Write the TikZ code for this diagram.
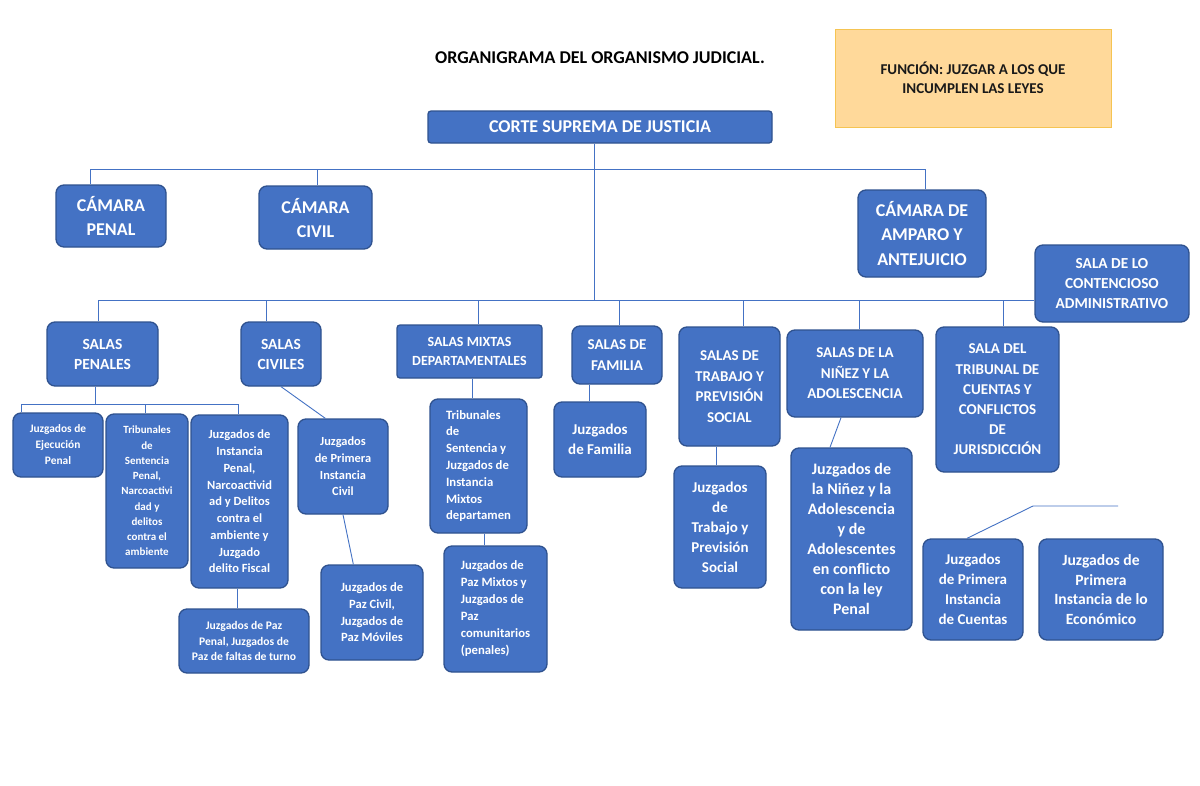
\documentclass[tikz,border=0pt]{standalone}
\usepackage{fontspec}
\setmainfont{Carlito}
\definecolor{bfill}{HTML}{4472C4}
\definecolor{bdraw}{HTML}{2F528F}
\definecolor{cline}{HTML}{4472C4}
\definecolor{ofill}{HTML}{FFD99A}
\definecolor{odraw}{HTML}{F5C452}
\newcommand{\fs}[2]{\fontsize{#1}{#2}\selectfont\bfseries}
\tikzset{
  box/.style={draw=bdraw, line width=1.3pt, fill=bfill, text=white, rounded corners=8pt, align=center, inner sep=0pt},
  sqbox/.style={box, rounded corners=3pt},
  conn/.style={draw=cline, line width=0.9pt},
}
\begin{document}
\begin{tikzpicture}[x=1pt,y=-1pt]
\fill[white] (0,0) rectangle (1200,785);
\useasboundingbox (0,0) rectangle (1200,785);

% title and function
\node[font=\fs{18}{22}, text=black] (title) at (600,58) {ORGANIGRAMA DEL ORGANISMO JUDICIAL.};
\node[draw=odraw, line width=1pt, fill=ofill, minimum width=276, minimum height=98, inner sep=0pt, align=center, font=\fs{15}{19}, text=black!90] (func) at (973,78) {FUNCIÓN: JUZGAR A LOS QUE\\INCUMPLEN LAS LEYES};

% level 0
\node[sqbox, minimum width=344, minimum height=32, font=\fs{18}{22}] (csj) at (600,127) {CORTE SUPREMA DE JUSTICIA};

% level 1
\node[box, minimum width=110, minimum height=62, font=\fs{18}{24}] (cp) at (111,216) {CÁMARA\\PENAL};
\node[box, minimum width=113, minimum height=63, font=\fs{18}{24}] (cc) at (315.5,217.5) {CÁMARA\\CIVIL};
\node[box, minimum width=128, minimum height=87, font=\fs{18}{24.5}] (ca) at (922,233.5) {CÁMARA DE\\AMPARO Y\\ANTEJUICIO};
\node[box, minimum width=154, minimum height=77, font=\fs{15.3}{20}] (sca) at (1112,283.5) {SALA DE LO\\CONTENCIOSO\\ADMINISTRATIVO};

% level 2
\node[box, minimum width=111, minimum height=64, font=\fs{15.5}{20}] (sp) at (102.5,354) {SALAS\\PENALES};
\node[box, minimum width=80, minimum height=64, font=\fs{15.5}{20}] (sc) at (281,354) {SALAS\\CIVILES};
\node[sqbox, minimum width=145, minimum height=53, font=\fs{14}{19}] (smix) at (469.5,351.5) {SALAS MIXTAS\\DEPARTAMENTALES};
\node[box, minimum width=90, minimum height=58, font=\fs{15}{21}] (sfam) at (617,355) {SALAS DE\\FAMILIA};
\node[box, minimum width=101, minimum height=119, font=\fs{15}{20.7}] (strab) at (729.5,386.5) {SALAS DE\\TRABAJO Y\\PREVISIÓN\\SOCIAL};
\node[box, minimum width=136, minimum height=87, font=\fs{15}{20.5}] (snin) at (855,373.5) {SALAS DE LA\\NIÑEZ Y LA\\ADOLESCENCIA};
\node[box, minimum width=123, minimum height=145, font=\fs{15}{20.2}] (stc) at (997.5,399.5) {SALA DEL\\TRIBUNAL DE\\CUENTAS Y\\CONFLICTOS\\DE\\JURISDICCIÓN};

% level 3
\node[box, minimum width=90, minimum height=64, font=\fs{11.4}{16}] (jep) at (58,445) {Juzgados de\\Ejecución\\Penal};
\node[box, minimum width=82, minimum height=154, font=\fs{11}{15.25}] (tsp) at (147,491) {Tribunales\\de\\Sentencia\\Penal,\\Narcoactivi\\dad y\\delitos\\contra el\\ambiente};
\node[box, minimum width=97, minimum height=173, font=\fs{12.5}{16.75}] (jip) at (239.5,501.5) {Juzgados de\\Instancia\\Penal,\\Narcoactivid\\ad y Delitos\\contra el\\ambiente y\\Juzgado\\delito Fiscal};
\node[box, minimum width=130, minimum height=64, font=\fs{11.6}{15.5}] (jpp) at (244,641) {Juzgados de Paz\\Penal, Juzgados de\\Paz de faltas de turno};
\node[box, minimum width=90, minimum height=95, font=\fs{12.4}{16.7}] (jpic) at (343,466.5) {Juzgados\\de Primera\\Instancia\\Civil};
\node[box, minimum width=102, minimum height=95, font=\fs{12.6}{16.7}] (jpc) at (372,612.5) {Juzgados de\\Paz Civil,\\Juzgados de\\Paz Móviles};
\node[box, minimum width=97, minimum height=134, font=\fs{12.7}{16.8}, align=left] (tsm) at (478.5,466) {Tribunales\\de\\Sentencia y\\Juzgados de\\Instancia\\Mixtos\\departamen};
\node[box, minimum width=103, minimum height=126, font=\fs{12.7}{17}, align=left] (jpm) at (495.5,609) {Juzgados de\\Paz Mixtos y\\Juzgados de\\Paz\\comunitarios\\(penales)};
\node[box, minimum width=92, minimum height=75, font=\fs{15}{20}] (jfam) at (600,439.5) {Juzgados\\de Familia};
\node[box, minimum width=92, minimum height=122, font=\fs{15}{20}] (jtrab) at (720,527) {Juzgados\\de\\Trabajo y\\Previsión\\Social};
\node[box, minimum width=121, minimum height=182, font=\fs{16}{20.1}] (jnin) at (851.5,539) {Juzgados de\\la Niñez y la\\Adolescencia\\y de\\Adolescentes\\en conflicto\\con la ley\\Penal};
\node[box, minimum width=100, minimum height=101, font=\fs{15}{20}] (jcu) at (973,589.5) {Juzgados\\de Primera\\Instancia\\de Cuentas};
\node[box, minimum width=124, minimum height=101, font=\fs{15.6}{19.7}] (jeco) at (1101,589.5) {Juzgados de\\Primera\\Instancia de lo\\Económico};

% connectors level 0-1
\coordinate (h1L) at (90,169);
\coordinate (h1C) at (317,169);
\coordinate (h1R) at (925,169);
\draw[conn] (h1L) -- (h1R);
\draw[conn] (h1L) -- (h1L |- cp.north);
\draw[conn] (h1C) -- (h1C |- cc.north);
\draw[conn] (h1R) -- (h1R |- ca.north);

% bus 2
\coordinate (h2L) at (98,300);
\draw[conn] ([xshift=-6]csj.south) -- ([xshift=-6]csj.south |- h2L);
\draw[conn] (h2L) -- (h2L -| sca.west);
\coordinate (d2) at (266,300);
\coordinate (d3) at (478,300);
\coordinate (d4) at (619,300);
\coordinate (d5) at (743,300);
\coordinate (d6) at (859,300);
\coordinate (d7) at (1003,300);
\draw[conn] (h2L) -- (h2L |- sp.north);
\draw[conn] (d2) -- (d2 |- sc.north);
\draw[conn] (d3) -- (d3 |- smix.north);
\draw[conn] (d4) -- (d4 |- sfam.north);
\draw[conn] (d5) -- (d5 |- strab.north);
\draw[conn] (d6) -- (d6 |- snin.north);
\draw[conn] (d7) -- (d7 |- stc.north);

% salas penales branch
\coordinate (p0) at (95,404);
\coordinate (pL) at (21,404);
\coordinate (pM) at (145,404);
\coordinate (pR) at (238,404);
\draw[conn] (p0 |- sp.south) -- (p0);
\draw[conn] (pL) -- (pR);
\draw[conn] (pL) -- (pL |- jep.north);
\draw[conn] (pM) -- (pM |- tsp.north);
\draw[conn] (pR) -- (pR |- jip.north);
\draw[conn] ([xshift=-2.5]jip.south) -- ([xshift=-2.5]jip.south |- jpp.north);

% civiles
\draw[conn] (sc.south) -- ([xshift=28]jpic.north west);
\draw[conn] (jpic.south) -- ([xshift=33]jpc.north west);

% mixtas
\draw[conn] ([xshift=2.5]smix.south) -- ([xshift=2.5]smix.south |- tsm.north);
\draw[conn] ([xshift=5.5]tsm.south) -- ([xshift=5.5]tsm.south |- jpm.north);

% familia, trabajo, ninez
\draw[conn] ([xshift=18]sfam.south west) -- ([xshift=18]sfam.south west |- jfam.north);
\draw[conn] ([xshift=-4]jtrab.north) -- ([xshift=-4]jtrab.north |- strab.south);
\draw[conn] ([xshift=-14]snin.south) -- ([xshift=-21.5]jnin.north);

% cuentas
\coordinate (fe) at (1118,506);
\coordinate (bend) at (1033,506);
\draw[conn] (fe) -- (bend) -- ([xshift=-6]jcu.north);
\end{tikzpicture}
\end{document}
